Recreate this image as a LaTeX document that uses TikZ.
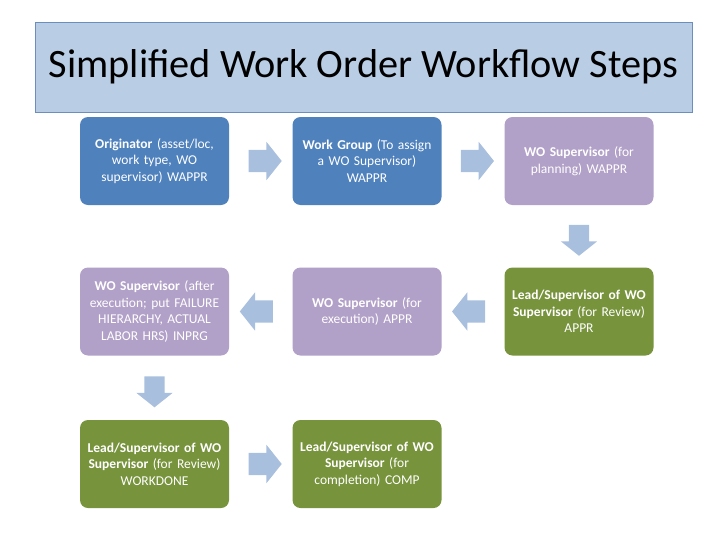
\documentclass[tikz,border=0pt]{standalone}
\usepackage{fontspec}
\setmainfont{Carlito}
\usetikzlibrary{shapes.arrows, positioning, calc}
\definecolor{titlefill}{RGB}{185, 205, 229}
\definecolor{titleline}{RGB}{108, 142, 191}
\definecolor{stepblue}{RGB}{79, 129, 189}
\definecolor{steppurple}{RGB}{177, 160, 199}
\definecolor{stepgreen}{RGB}{119, 147, 60}
\definecolor{arrowblue}{RGB}{169, 191, 222}

\begin{document}
\begin{tikzpicture}[x=1pt, y=-1pt,
  titlebox/.style={draw=titleline, line width=1pt, fill=titlefill, minimum width=657pt, minimum height=90pt, inner sep=0pt, font=\fontsize{40.3}{45}\selectfont},
  stepbox/.style={rounded corners=8pt, minimum width=149pt, minimum height=88pt, text width=146pt, inner sep=0pt, align=center, text=white, font=\fontsize{13.5}{16.5}\selectfont},
  blockarrow/.style={single arrow, fill=arrowblue, minimum height=33pt, inner xsep=0pt, inner ysep=11pt, single arrow head extend=8pt, single arrow tip angle=103},
  downarrow/.style={blockarrow, shape border rotate=270, inner xsep=10pt, inner ysep=0pt, minimum height=31pt}]
  % 参数定义
  \def\colA{154.5}
  \def\colB{367}
  \def\colC{579}
  \def\rowA{161}
  \def\rowB{311.5}
  \def\rowC{464}

  \useasboundingbox (0,0) rectangle (728,546);

  % ===== 标题 =====
  \node[titlebox] (title) at (363.5,67) {Simplified Work Order Workflow Steps};

  % ===== 第一行 =====
  \node[stepbox, fill=stepblue] (orig) at (\colA,\rowA) {\textbf{Originator} (asset/loc,\\ work type, WO\\ supervisor) WAPPR};
  \node[stepbox, fill=stepblue] (wgroup) at (\colB,\rowA) {\textbf{Work Group} (To assign\\ a WO Supervisor)\\ WAPPR};
  \node[stepbox, fill=steppurple] (plan) at (\colC,\rowA) {\textbf{WO Supervisor} (for\\ planning) WAPPR};

  % ===== 第二行 =====
  \node[stepbox, fill=stepgreen] (review) at (\colC,\rowB) {\textbf{Lead/Supervisor of WO}\\ \textbf{Supervisor} (for Review)\\ APPR};
  \node[stepbox, fill=steppurple] (exec) at (\colB,\rowB) {\textbf{WO Supervisor} (for\\ execution) APPR};
  \node[stepbox, fill=steppurple] (after) at (\colA,\rowB) {\textbf{WO Supervisor} (after\\ execution; put FAILURE\\ HIERARCHY, ACTUAL\\ LABOR HRS) INPRG};

  % ===== 第三行 =====
  \node[stepbox, fill=stepgreen] (done) at (\colA,\rowC) {\textbf{Lead/Supervisor of WO}\\ \textbf{Supervisor} (for Review)\\ WORKDONE};
  \node[stepbox, fill=stepgreen] (comp) at (\colB,\rowC) {\textbf{Lead/Supervisor of WO}\\ \textbf{Supervisor} (for\\ completion) COMP};

  % ===== 箭头 =====
  \node[blockarrow] (a1) at ($(orig.east)!0.5!(wgroup.west)$) {};
  \node[blockarrow] (a2) at ($(wgroup.east)!0.5!(plan.west)$) {};
  \node[downarrow] (a3) at ($(plan.south)!0.5!(review.north)$) {};
  \node[blockarrow, shape border rotate=180] (a4) at ($(review.west)!0.5!(exec.east)$) {};
  \node[blockarrow, shape border rotate=180] (a5) at ($(exec.west)!0.5!(after.east)$) {};
  \node[downarrow] (a6) at ($(after.south)!0.5!(done.north)$) {};
  \node[blockarrow] (a7) at ($(done.east)!0.5!(comp.west)$) {};
\end{tikzpicture}
\end{document}
